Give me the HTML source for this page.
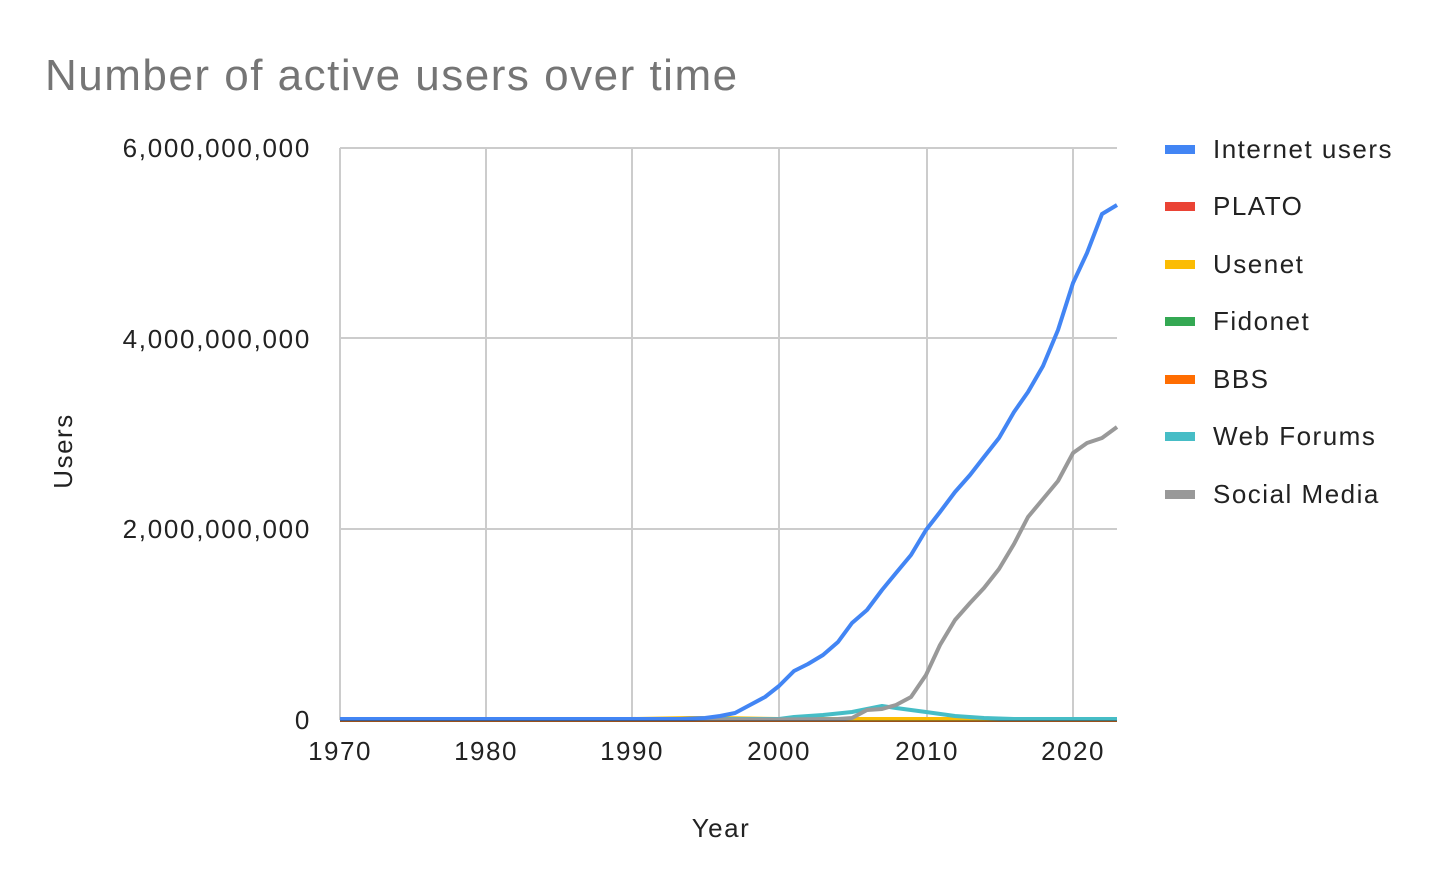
<!DOCTYPE html>
<html><head><meta charset="utf-8"><style>
html,body{margin:0;padding:0;background:#fff;}
svg{display:block;font-family:"Liberation Sans",Arial,sans-serif;}
</style></head><body>
<svg width="1440" height="890" viewBox="0 0 1440 890">
<text x="45" y="90" font-size="44" fill="#757575" letter-spacing="1.5">Number of active users over time</text>
<g stroke="#cccccc" stroke-width="2">
<line x1="340" y1="148" x2="1117" y2="148"/>
<line x1="340" y1="338" x2="1117" y2="338"/>
<line x1="340" y1="529" x2="1117" y2="529"/>
<line x1="340" y1="148" x2="340" y2="720"/>
<line x1="486" y1="148" x2="486" y2="720"/>
<line x1="632" y1="148" x2="632" y2="720"/>
<line x1="779" y1="148" x2="779" y2="720"/>
<line x1="927" y1="148" x2="927" y2="720"/>
<line x1="1073" y1="148" x2="1073" y2="720"/>
</g>
<g font-size="26" fill="#222" text-anchor="end" letter-spacing="1.7">
<text x="311" y="157">6,000,000,000</text>
<text x="311" y="348">4,000,000,000</text>
<text x="311" y="538">2,000,000,000</text>
<text x="311" y="729">0</text>
</g>
<g font-size="26" fill="#222" text-anchor="middle" letter-spacing="1.5">
<text x="340" y="760">1970</text>
<text x="486" y="760">1980</text>
<text x="632" y="760">1990</text>
<text x="779" y="760">2000</text>
<text x="927" y="760">2010</text>
<text x="1073" y="760">2020</text>
<text x="721" y="837">Year</text>
</g>
<text transform="translate(72,451) rotate(-90)" font-size="26" fill="#222" text-anchor="middle" letter-spacing="1.5">Users</text>
<g fill="none" stroke-width="4" stroke-linejoin="round">
<polyline stroke="#ff6d01" points="340,720 1117,720"/>
<polyline stroke="#fbbc04" points="340,719 632,719 690,718 720,718 779,719 1117,719"/>
<polyline stroke="#46bdc6" points="340,719.5 779,719 794,717 823,715 852,712 882,706 896,708 926,712 955,716 984,718 1014,719 1117,719"/>
<polyline stroke="#999999" points="340,719.5 779,719.5 838,719 852,718 867,710 882,709 896,705 911,697 926,675 940,645 955,620 970,603 984,588 999,569 1014,544 1028,517 1043,499 1058,481 1073,453 1087,443 1102,438 1117,427"/>
<polyline stroke="#4285f4" points="340,719 680,719 705,718 720,716 735,713 750,705 765,697 779,686 794,671 808,664 823,655 838,642 852,623 867,610 882,590 896,573 911,555 926,530 940,512 955,492 970,475 984,457 999,438 1014,412 1028,392 1043,366 1058,330 1073,283 1087,253 1102,214 1117,205"/>
</g>
<line x1="340" y1="721" x2="1117" y2="721" stroke="#333" stroke-width="1"/>
<g font-size="26" fill="#222" letter-spacing="1.5">
<rect x="1165" y="145" width="30" height="9" fill="#4285f4"/><text x="1213" y="158">Internet users</text>
<rect x="1165" y="202" width="30" height="9" fill="#ea4335"/><text x="1213" y="215">PLATO</text>
<rect x="1165" y="260" width="30" height="9" fill="#fbbc04"/><text x="1213" y="273">Usenet</text>
<rect x="1165" y="317" width="30" height="9" fill="#34a853"/><text x="1213" y="330">Fidonet</text>
<rect x="1165" y="375" width="30" height="9" fill="#ff6d01"/><text x="1213" y="388">BBS</text>
<rect x="1165" y="432" width="30" height="9" fill="#46bdc6"/><text x="1213" y="445">Web Forums</text>
<rect x="1165" y="490" width="30" height="9" fill="#999999"/><text x="1213" y="503">Social Media</text>
</g>
</svg>
</body></html>
